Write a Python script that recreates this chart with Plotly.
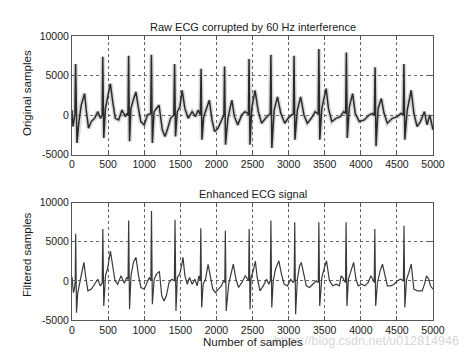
import plotly.graph_objects as go

# ---------------- data ----------------
raw_x = [0, 14, 40, 50, 69, 96, 128, 160, 174, 197, 229, 266, 312, 358, 394, 418,
         426, 440, 463, 495, 532, 564, 600, 646, 692, 738, 761, 776,
         784, 797, 816, 848, 885, 921, 953, 999, 1045, 1090,
         1100, 1113, 1137, 1169, 1205, 1251, 1288, 1320, 1366, 1410,
         1421, 1434, 1458, 1494, 1526, 1563, 1609, 1664, 1710, 1746, 1778,
         1788, 1800, 1824, 1856, 1902, 1939, 1975, 2021, 2067, 2104,
         2113, 2126, 2159, 2191, 2214, 2250, 2296, 2351, 2397, 2434, 2444,
         2452, 2465, 2489, 2535, 2580, 2626, 2681, 2718, 2746,
         2755, 2768, 2800, 2846, 2892, 2947, 2993, 3039, 3066,
         3075, 3088, 3121, 3167, 3213, 3259, 3314, 3369, 3410,
         3419, 3432, 3460, 3520, 3552, 3598, 3658, 3717, 3763, 3790,
         3800, 3813, 3841, 3887, 3923, 3978, 4047, 4116, 4162, 4188,
         4198, 4211, 4240, 4285, 4322, 4368, 4437, 4506, 4560, 4588,
         4597, 4610, 4643, 4698, 4735, 4780, 4826, 4881, 4918, 4955, 5000]
raw_y = [625, -1460, 0, 6460, -3540, -830, 1250, 2500, 2700, 625, -1670, -830, -420, 420, -420, 0,
         7380, -2920, 830, 2290, 3960, 1670, -420, -625, 625, -210, 210, 0,
         7500, -3330, 830, 1880, 2920, 830, -830, -1250, 0, 200,
         7630, -3540, 420, 830, 1250, -1880, -2710, -1880, -420, 0,
         6460, -2710, 420, 1040, 3130, 830, -420, 420, -210, 625, 0,
         5840, -3130, -210, 625, 1880, -625, -2080, -1670, -625, 0,
         6130, -3750, -420, 830, 1880, -210, -1250, 0, 420, 210, 0,
         7090, -3750, 830, 3130, 420, -1040, -420, 0, 200,
         7630, -4170, 625, 2290, 210, -1040, -420, 0, 100,
         7500, -3130, 625, 2290, 0, -1040, -420, 420, 100,
         8340, -3130, 830, 3340, 830, -830, -420, -210, 420, 200,
         7920, -2920, 1040, 2710, 210, -830, -625, 0, 210, 0,
         6050, -3960, 830, 2080, 210, -1040, -420, -210, 210, 0,
         6460, -3130, 625, 3130, 210, -1460, -830, 420, -1250, 0, -1880]

filt_x = [0, 20, 35, 45, 51, 62, 80, 106, 140, 165, 188, 220, 266, 312, 358, 390, 418,
          427, 440, 464, 496, 532, 564, 596, 633, 679, 725, 757, 776,
          785, 797, 817, 850, 886, 922, 955, 1000, 1046, 1070, 1092,
          1101, 1113, 1138, 1170, 1210, 1243, 1275, 1307, 1344, 1381, 1418,
          1427, 1440, 1459, 1491, 1518, 1537, 1564, 1596, 1628, 1665, 1702, 1734, 1757, 1776,
          1784, 1796, 1816, 1849, 1885, 1917, 1950, 1986, 2023, 2069, 2101, 2116,
          2124, 2136, 2170, 2206, 2234, 2271, 2307, 2353, 2399, 2436, 2446,
          2454, 2466, 2480, 2510, 2540, 2565, 2603, 2649, 2695, 2727, 2747,
          2755, 2767, 2787, 2819, 2865, 2901, 2938, 2984, 3030, 3062, 3077,
          3085, 3097, 3121, 3153, 3176, 3213, 3245, 3291, 3337, 3382, 3411,
          3419, 3431, 3460, 3497, 3525, 3566, 3612, 3658, 3703, 3727, 3749, 3770, 3788,
          3796, 3808, 3828, 3864, 3901, 3933, 3965, 4011, 4057, 4103, 4139, 4176, 4186,
          4194, 4206, 4231, 4268, 4300, 4332, 4368, 4414, 4460, 4506, 4552, 4590,
          4598, 4610, 4634, 4666, 4698, 4735, 4781, 4850, 4882, 4910, 4942, 4964, 5000]
filt_y = [500, -1500, -1000, 0, 6000, -4060, -1500, -200, 1500, 2350, 640, -1280, -1070, -430, 200, -640, -300,
          6600, -3200, 640, 1700, 3800, 1700, 0, -430, 640, -300, 430, 200,
          7690, -3630, 640, 2350, 3000, 640, -850, -1070, -200, 430, 0,
          8900, -3000, 200, 850, 1200, -1900, -2560, -1920, -200, 200, 0,
          7800, -3840, 430, 850, 1920, 3000, 640, -430, 430, -430, 200, -640, 640, 0,
          6700, -3400, -430, 200, 2100, 640, -1070, -1500, -1070, -640, 0, -200,
          6400, -3840, -430, 850, 2130, 200, -850, -200, 640, 200, 0,
          6600, -3630, 430, 1280, 2500, 430, -1280, -640, 200, -430, 0,
          7690, -3400, 0, 1500, 2560, 850, -430, -640, 200, -200, 0,
          7470, -4270, 200, 1920, 2350, 640, -640, -850, -430, 0, -200,
          7470, -3200, 430, 1700, 2560, 0, -640, -430, -640, 640, 430, 0, -200,
          7470, -3200, 200, 1280, 2350, 200, -640, -430, -640, -200, 640, 0, -200,
          6600, -3200, -200, 1280, 2130, 640, -640, -640, -430, 0, 200, 0,
          7040, -3400, 200, 1070, 2130, -1070, -1280, -1280, -430, 640, 200, -640, -1070]

x_ticks = [0, 500, 1000, 1500, 2000, 2500, 3000, 3500, 4000, 4500, 5000]
x_ticktext = [str(v) for v in x_ticks]
y_ticks = [-5000, 0, 5000, 10000]
y_ticktext = ["-5000", "0", "5000", "10000"]

top_title = "Raw ECG corrupted by 60 Hz interference"
bottom_title = "Enhanced ECG signal"
top_ylabel = "Original samples"
bottom_ylabel = "Filtered samples"
xlabel = "Number of samples"
watermark = "https://blog.csdn.net/u012814946"

# ---------------- figure ----------------
W, H = 474, 353
L, R, T, B = 72, 41, 36, 33
PW, PH = W - L - R, H - T - B


def px(xp):
    return (xp - L) / PW


def py(yp):
    return (H - B - yp) / PH


FONT = "Liberation Sans, Arial, sans-serif"
TXT = "#1a1a1a"

fig = go.Figure()

# raw: light grey noise halo + dark trace
fig.add_trace(go.Scatter(x=raw_x, y=raw_y, mode="lines", xaxis="x", yaxis="y",
                         line=dict(color="rgba(140,140,140,0.35)", width=4.5),
                         hoverinfo="skip", showlegend=False))
fig.add_trace(go.Scatter(x=raw_x, y=raw_y, mode="lines", xaxis="x", yaxis="y",
                         line=dict(color="#2a2a2a", width=1.5), showlegend=False))
# filtered
fig.add_trace(go.Scatter(x=filt_x, y=filt_y, mode="lines", xaxis="x2", yaxis="y2",
                         line=dict(color="#3a3a3a", width=1.2), showlegend=False))

axis_common = dict(
    showline=True, mirror="ticks", linecolor="#555555", linewidth=1,
    ticks="inside", ticklen=4, tickcolor="#555555",
    showgrid=True, gridcolor="#666666", gridwidth=0.6, griddash="dot",
    zeroline=False, tickfont=dict(family=FONT, size=10.5, color=TXT),
)

fig.update_layout(
    width=W, height=H,
    margin=dict(l=L, r=R, t=T, b=B),
    paper_bgcolor="white", plot_bgcolor="white",
    xaxis=dict(domain=[0, 1], anchor="y", range=[0, 5000], tickvals=x_ticks,
               ticktext=x_ticktext, **axis_common),
    yaxis=dict(domain=[py(154.5), 1], anchor="x", range=[-5000, 10000], tickvals=y_ticks,
               ticktext=y_ticktext, **axis_common),
    xaxis2=dict(domain=[0, 1], anchor="y2", range=[0, 5000], tickvals=x_ticks,
                ticktext=x_ticktext, **axis_common),
    yaxis2=dict(domain=[0, py(202.5)], anchor="x2", range=[-5000, 10000], tickvals=y_ticks,
                ticktext=y_ticktext, **axis_common),
    showlegend=False,
)

# watermark (faint, behind the x label)
fig.add_annotation(text=watermark, xref="paper", yref="paper", x=px(366), y=py(341),
                   showarrow=False, xanchor="center", yanchor="middle",
                   font=dict(family=FONT, size=12.5, color="rgba(195,195,195,0.7)"))

ann = [
    dict(text=top_title, x=px(252.5), y=py(27), size=11, angle=0),
    dict(text=bottom_title, x=px(252.5), y=py(194), size=11, angle=0),
    dict(text=top_ylabel, x=px(27), y=py(93), size=11.5, angle=-90),
    dict(text=bottom_ylabel, x=px(27), y=py(255), size=11.5, angle=-90),
    dict(text=xlabel, x=px(252.5), y=py(342), size=11.5, angle=0),
]
for a in ann:
    fig.add_annotation(text=a["text"], xref="paper", yref="paper", x=a["x"], y=a["y"],
                       showarrow=False, xanchor="center", yanchor="middle", textangle=a["angle"],
                       font=dict(family=FONT, size=a["size"], color=TXT))

fig.write_html("out.html")
